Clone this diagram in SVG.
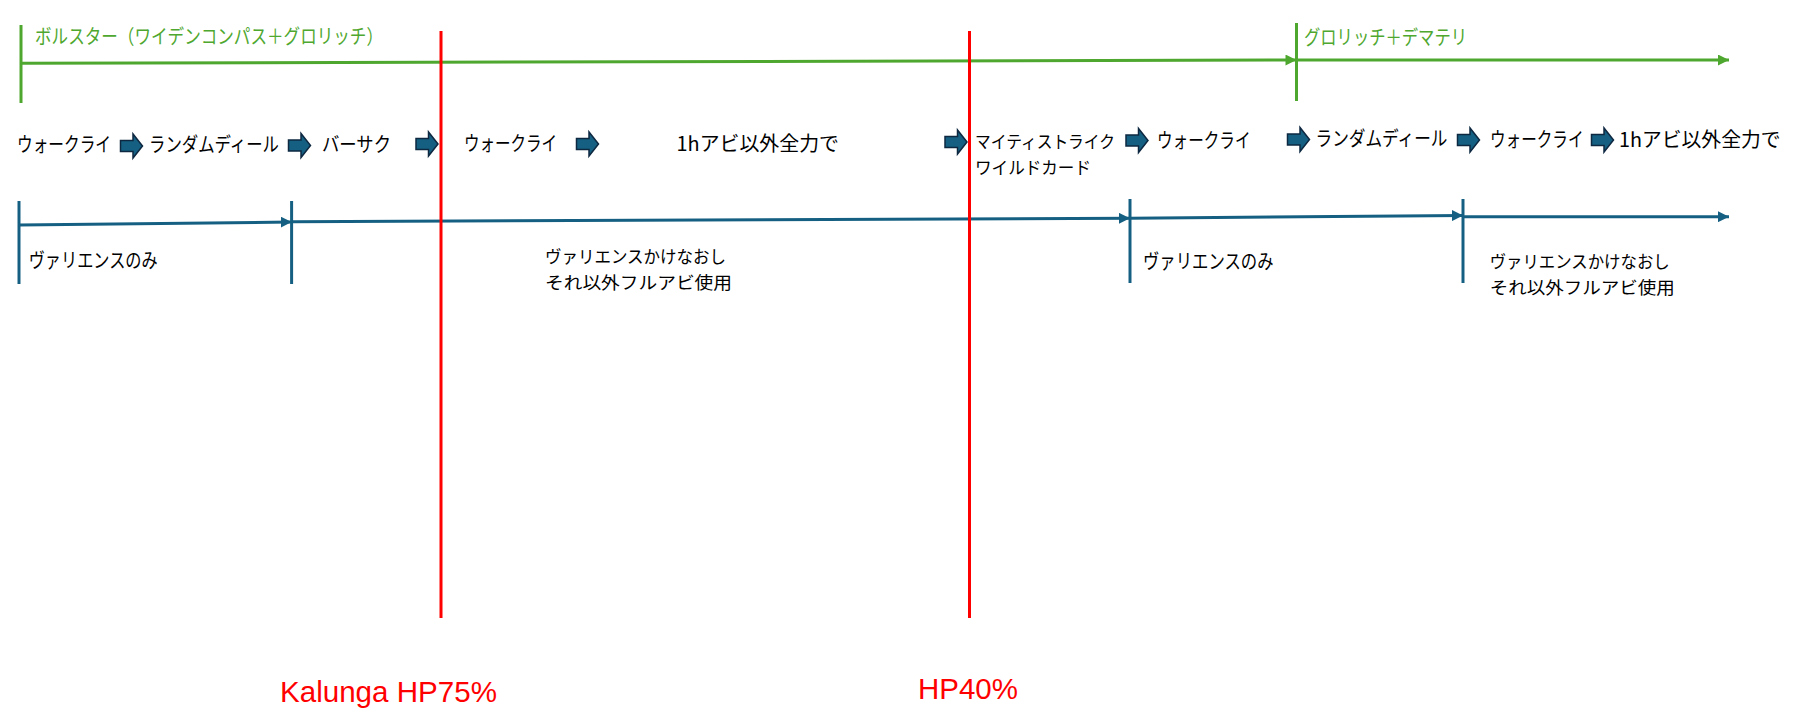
<svg xmlns="http://www.w3.org/2000/svg" xmlns:xlink="http://www.w3.org/1999/xlink" width="1795" height="713" viewBox="0 0 1795 713">
<style>
  text { font-family: "Noto Sans CJK JP", "Noto Sans", sans-serif; font-size: 20px; fill: #000; }
  .two { font-size: 17.5px; }
  .g { fill: #4EA72E; }
  .r { font-family: "Liberation Sans", "Noto Sans", sans-serif; font-size: 29px; fill: #FF0000; }
  .gl { stroke: #4EA72E; stroke-width: 3; fill: none; }
  .bl { stroke: #156082; stroke-width: 3; fill: none; }
  .rl { stroke: #FF0000; stroke-width: 3; fill: none; }
  .ga { marker-end: url(#mg); }
  .ba { marker-end: url(#mb); }
  .blk { fill: #156082; stroke: #0E2841; stroke-width: 1.5; stroke-linejoin: miter; }
</style>
<defs>
  <marker id="mg" markerUnits="userSpaceOnUse" markerWidth="12" markerHeight="11" refX="11" refY="5.5" orient="auto">
    <path d="M0,0 L11,5.5 L0,11 z" fill="#4EA72E"/>
  </marker>
  <marker id="mb" markerUnits="userSpaceOnUse" markerWidth="12" markerHeight="11" refX="11" refY="5.5" orient="auto">
    <path d="M0,0 L11,5.5 L0,11 z" fill="#156082"/>
  </marker>
  <path id="blk" class="blk" d="M-11,-5.5 L1.5,-5.5 L1.5,-12 L11,0 L1.5,12 L1.5,5.5 L-11,5.5 z"/>
</defs>
<rect width="1795" height="713" fill="#FFFFFF"/>

<g id="connectors">
  <!-- green timeline -->
  <line class="gl" x1="21" y1="25" x2="21" y2="103"/>
  <line class="gl ga" x1="21" y1="63.3" x2="1296.5" y2="60"/>
  <line class="gl" x1="1296.5" y1="23" x2="1296.5" y2="101"/>
  <line class="gl ga" x1="1296.5" y1="60" x2="1729" y2="60"/>
  <!-- blue timeline -->
  <line class="bl" x1="19" y1="201" x2="19" y2="284"/>
  <line class="bl ba" x1="19" y1="225" x2="291.6" y2="222"/>
  <line class="bl" x1="291.6" y1="201" x2="291.6" y2="284"/>
  <line class="bl ba" x1="291.6" y1="221.7" x2="1130" y2="218.3"/>
  <line class="bl" x1="1130" y1="199" x2="1130" y2="283"/>
  <line class="bl ba" x1="1130" y1="218.3" x2="1463" y2="215.5"/>
  <line class="bl" x1="1463" y1="199" x2="1463" y2="283"/>
  <line class="bl ba" x1="1463" y1="216.7" x2="1729" y2="216.7"/>
  <!-- red markers -->
  <line class="rl" x1="441" y1="31" x2="441" y2="618"/>
  <line class="rl" x1="969.5" y1="31" x2="969.5" y2="618"/>
  <!-- block arrows -->
  <use xlink:href="#blk" href="#blk" x="131.5" y="146"/>
  <use xlink:href="#blk" href="#blk" x="299.5" y="145.5"/>
  <use xlink:href="#blk" href="#blk" x="427" y="144"/>
  <use xlink:href="#blk" href="#blk" x="587.5" y="144"/>
  <use xlink:href="#blk" href="#blk" x="956" y="142"/>
  <use xlink:href="#blk" href="#blk" x="1137" y="140.5"/>
  <use xlink:href="#blk" href="#blk" x="1298.5" y="139.5"/>
  <use xlink:href="#blk" href="#blk" x="1468.5" y="140"/>
  <use xlink:href="#blk" href="#blk" x="1602.5" y="140"/>
</g>

<g id="phase-bolster"><text class="g" x="35" y="44" textLength="348" lengthAdjust="spacingAndGlyphs">ボルスター（ワイデンコンパス＋グロリッチ）</text></g>
<g id="phase-glorich"><text class="g" x="1304" y="45" textLength="163" lengthAdjust="spacingAndGlyphs">グロリッチ＋デマテリ</text></g>

<g id="step-1"><text x="17" y="151.5" textLength="94" lengthAdjust="spacingAndGlyphs">ウォークライ</text></g>
<g id="step-2"><text x="149" y="151.5" textLength="130" lengthAdjust="spacingAndGlyphs">ランダムディール</text></g>
<g id="step-3"><text x="322" y="151.5" textLength="69" lengthAdjust="spacingAndGlyphs">バーサク</text></g>
<g id="step-4"><text x="464" y="150.5" textLength="93" lengthAdjust="spacingAndGlyphs">ウォークライ</text></g>
<g id="step-5"><text x="676.5" y="150.5" textLength="162.5" lengthAdjust="spacingAndGlyphs">1hアビ以外全力で</text></g>
<g id="step-6">
  <text class="two"><tspan x="975" y="148" textLength="140" lengthAdjust="spacingAndGlyphs">マイティストライク</tspan><tspan x="975" y="173.5" textLength="116" lengthAdjust="spacingAndGlyphs">ワイルドカード</tspan></text>
</g>
<g id="step-7"><text x="1157" y="147.5" textLength="93.5" lengthAdjust="spacingAndGlyphs">ウォークライ</text></g>
<g id="step-8"><text x="1315.5" y="146" textLength="132" lengthAdjust="spacingAndGlyphs">ランダムディール</text></g>
<g id="step-9"><text x="1490" y="146.5" textLength="93.5" lengthAdjust="spacingAndGlyphs">ウォークライ</text></g>
<g id="step-10"><text x="1619" y="147" textLength="161.5" lengthAdjust="spacingAndGlyphs">1hアビ以外全力で</text></g>

<g id="variance-1"><text x="28.7" y="267.5" textLength="129" lengthAdjust="spacingAndGlyphs">ヴァリエンスのみ</text></g>
<g id="variance-2">
  <text class="two"><tspan x="545" y="263" textLength="181" lengthAdjust="spacingAndGlyphs">ヴァリエンスかけなおし</tspan><tspan x="545" y="288.5" textLength="187" lengthAdjust="spacingAndGlyphs">それ以外フルアビ使用</tspan></text>
</g>
<g id="variance-3"><text x="1143" y="269" textLength="130.5" lengthAdjust="spacingAndGlyphs">ヴァリエンスのみ</text></g>
<g id="variance-4">
  <text class="two"><tspan x="1489.7" y="268" textLength="180" lengthAdjust="spacingAndGlyphs">ヴァリエンスかけなおし</tspan><tspan x="1489.7" y="293.5" textLength="185" lengthAdjust="spacingAndGlyphs">それ以外フルアビ使用</tspan></text>
</g>

<g id="marker-hp75"><text class="r" x="280" y="702" textLength="217" lengthAdjust="spacingAndGlyphs">Kalunga HP75%</text></g>
<g id="marker-hp40"><text class="r" x="918" y="699" textLength="100" lengthAdjust="spacingAndGlyphs">HP40%</text></g>
</svg>
